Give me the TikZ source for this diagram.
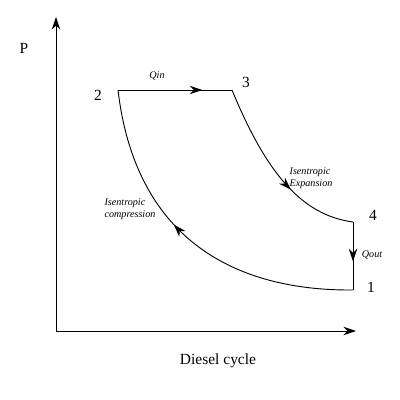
\documentclass[tikz,border=0pt]{standalone}
\usepackage{fontspec}
\setmainfont{Liberation Serif}
\usepackage{tikz}
\usetikzlibrary{arrows.meta,decorations.markings}

\tikzset{
	tip/.style={-{Stealth[length=9pt,width=6pt]}},
	midarrow/.style={postaction={decorate}, decoration={markings,
		mark=at position #1 with {\arrow{Stealth[length=9pt,width=6pt]}}}},
	lbl/.style={font=\fontsize{11}{13}\selectfont},
	note/.style={font=\fontsize{7.2}{8.2}\selectfont\itshape, align=left},
}

\begin{document}
\begin{tikzpicture}[x=0.025cm, y=-0.025cm, color=black, line width=0.65pt]
		\useasboundingbox (0,0) rectangle (400,400);
		% axes
		\coordinate (o) at (56,331);
		\coordinate (ytop) at (56,17);
		\coordinate (xend) at (356,331);
		\draw[tip] (o) -- (ytop);
		\draw[tip] (o) -- (xend);
		\node[lbl] (plab) at (24,48) {P};
		\node[lbl] (title) at (218,361) {Diesel cycle};
		
		% cycle corners
		\coordinate (p1) at (353,290);
		\coordinate (p2) at (118,90);
		\coordinate (p3) at (232,90);
		\coordinate (p4) at (353,222);
		
		\draw[midarrow=0.74] (p2) -- (p3);
		\draw[midarrow=0.62] (p3) .. controls (265,170) and (300,215) .. (p4);
		\draw[midarrow=0.58] (p4) -- (p1);
		\draw[midarrow=0.57] (p1) .. controls (230,291) and (135,235) .. (p2);
		
		% labels
		\node[lbl] (n1) at (371,287) {1};
		\node[lbl] (n2) at (98,95) {2};
		\node[lbl] (n3) at (246,82) {3};
		\node[lbl] (n4) at (373,215) {4};
		\node[note] (qin) at (157,76) {Qin};
		\node[note] (qout) at (372,255) {Qout};
		\node[note] (exp) at (311,178) {Isentropic\\Expansion};
		\node[note] (comp) at (130,209) {Isentropic\\compression};
	\end{tikzpicture}
\end{document}
